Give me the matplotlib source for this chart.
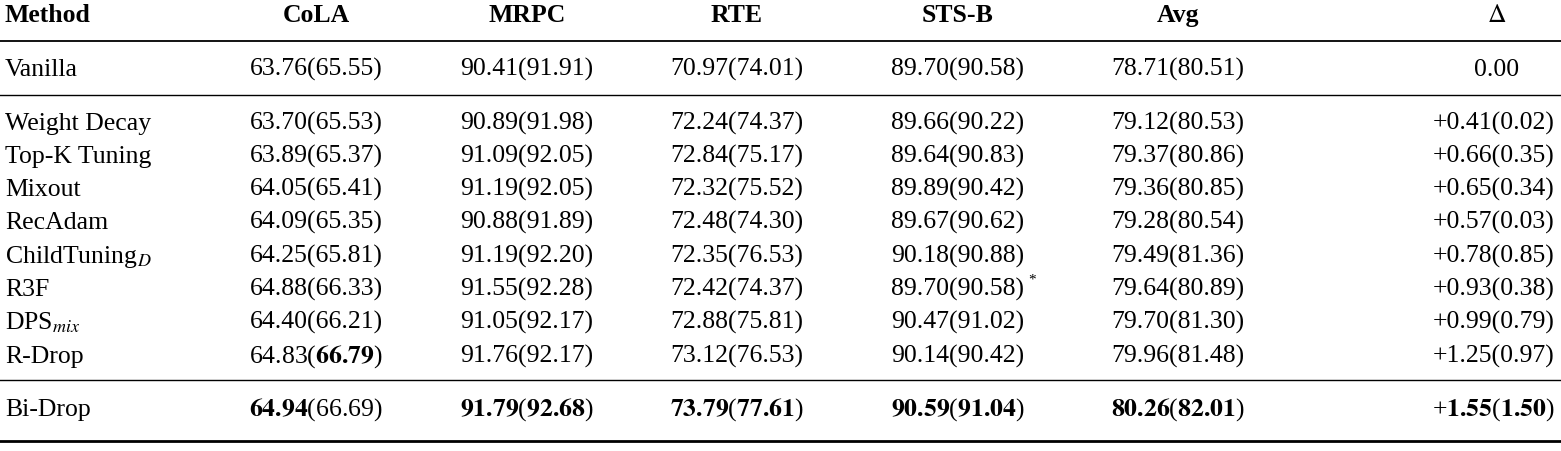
import matplotlib.pyplot as plt

plt.rcParams['font.family'] = ['Liberation Serif', 'DejaVu Serif']
plt.rcParams['mathtext.fontset'] = 'stix'

headers = ["Method", "CoLA", "MRPC", "RTE", "STS-B", "Avg", r"$\Delta$"]
methods = ["Vanilla", "Weight Decay", "Top-K Tuning", "Mixout", "RecAdam",
           r"ChildTuning$_D$", "R3F", r"DPS$_{mix}$", "R-Drop", "Bi-Drop"]
cola = [("63.76", "65.55"), ("63.70", "65.53"), ("63.89", "65.37"), ("64.05", "65.41"),
        ("64.09", "65.35"), ("64.25", "65.81"), ("64.88", "66.33"), ("64.40", "66.21"),
        ("64.83", "66.79"), ("64.94", "66.69")]
mrpc = [("90.41", "91.91"), ("90.89", "91.98"), ("91.09", "92.05"), ("91.19", "92.05"),
        ("90.88", "91.89"), ("91.19", "92.20"), ("91.55", "92.28"), ("91.05", "92.17"),
        ("91.76", "92.17"), ("91.79", "92.68")]
rte = [("70.97", "74.01"), ("72.24", "74.37"), ("72.84", "75.17"), ("72.32", "75.52"),
       ("72.48", "74.30"), ("72.35", "76.53"), ("72.42", "74.37"), ("72.88", "75.81"),
       ("73.12", "76.53"), ("73.79", "77.61")]
stsb = [("89.70", "90.58"), ("89.66", "90.22"), ("89.64", "90.83"), ("89.89", "90.42"),
        ("89.67", "90.62"), ("90.18", "90.88"), ("89.70", "90.58"), ("90.47", "91.02"),
        ("90.14", "90.42"), ("90.59", "91.04")]
avg = [("78.71", "80.51"), ("79.12", "80.53"), ("79.37", "80.86"), ("79.36", "80.85"),
       ("79.28", "80.54"), ("79.49", "81.36"), ("79.64", "80.89"), ("79.70", "81.30"),
       ("79.96", "81.48"), ("80.26", "82.01")]
delta = [("0.00", None), ("+0.41", "0.02"), ("+0.66", "0.35"), ("+0.65", "0.34"),
         ("+0.57", "0.03"), ("+0.78", "0.85"), ("+0.93", "0.38"), ("+0.99", "0.79"),
         ("+1.25", "0.97"), ("+1.55", "1.50")]
# (row, column, part) that are bold
bold = {(8, 0, 1), (9, 0, 0), (9, 1, 0), (9, 1, 1), (9, 2, 0), (9, 2, 1),
        (9, 3, 0), (9, 3, 1), (9, 4, 0), (9, 4, 1), (9, 5, 0), (9, 5, 1)}
starred = {(6, 3)}

def bf(s):
    return r"$\mathbf{" + s + "}$"

def cell(r, c, pair):
    a, b = pair
    a2 = bf(a) if (r, c, 0) in bold else a
    if b is None:
        return a2
    b2 = bf(b) if (r, c, 1) in bold else b
    return f"{a2}({b2})"

W, H = 1561, 451
fig = plt.figure(figsize=(W / 100, H / 100), dpi=100)
ax = fig.add_axes([0, 0, 1, 1])
ax.set_xlim(0, W)
ax.set_ylim(H, 0)
ax.axis('off')

fs = 18.5
bl = 8  # baseline offset below row centre
col_x = [316, 527, 737, 958, 1178]
ax.text(5, 14 + bl, headers[0], fontsize=fs, weight='bold', va='baseline', ha='left')
for x, h in zip(col_x + [1497], headers[1:]):
    ax.text(x, 14 + bl, h, fontsize=fs, weight='bold', va='baseline', ha='center')

row_y = [68, 122, 155, 188, 221, 255, 288, 321, 355, 408]
cols = [cola, mrpc, rte, stsb, avg]
for r, y in enumerate(row_y):
    yb = y + bl
    ax.text(5, yb, methods[r], fontsize=fs, va='baseline', ha='left')
    for c, x in enumerate(col_x):
        ax.text(x, yb, cell(r, c, cols[c][r]), fontsize=fs, va='baseline', ha='center')
        if (r, c) in starred:
            ax.text(x + 70, yb - 12, "*", fontsize=11, va='baseline', ha='left')
    d = delta[r]
    if d[1] is None:
        ax.text(1497, yb, d[0], fontsize=fs, va='baseline', ha='center')
    elif r == 9:
        ax.text(1555, yb, "+" + bf(d[0][1:]) + "(" + bf(d[1]) + ")",
                fontsize=fs, va='baseline', ha='right')
    else:
        ax.text(1555, yb, f"{d[0]}({d[1]})", fontsize=fs, va='baseline', ha='right')

for y, lw in [(41, 1.3), (95, 1.0), (380, 1.0), (441, 2.0)]:
    ax.plot([0, W], [y, y], color='black', lw=lw)

fig.savefig("out.png", dpi=100)
